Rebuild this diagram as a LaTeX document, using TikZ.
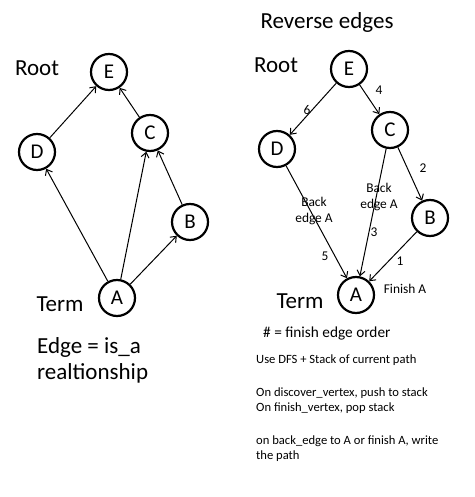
\documentclass[tikz,border=0pt]{standalone}
\usepackage{fontspec}
\setmainfont{Carlito}
\usetikzlibrary{arrows.meta}
\tikzset{
  vtx/.style={circle,draw,line width=2.2pt,minimum size=36pt,inner sep=0pt,font=\fontsize{21}{22}\selectfont},
  big/.style={font=\fontsize{23}{26}\selectfont,inner sep=0pt},
  small/.style={font=\fontsize{13.4}{16}\selectfont,inner sep=0pt,align=center},
  note/.style={font=\fontsize{12.6}{15}\selectfont,inner sep=0pt,anchor=west,align=left},
  arr/.style={line width=1pt,-{Straight Barb[length=5pt,width=8pt]}}
}
\begin{document}
\begin{tikzpicture}[x=1pt,y=-1pt]
\useasboundingbox (0,0) rectangle (474,497);
% left graph
\node[vtx] (lE) at (109,72) {E};
\node[vtx] (lD) at (37,152) {D};
\node[vtx] (lC) at (150,133) {C};
\node[vtx] (lB) at (190,222) {B};
\node[vtx] (lA) at (117,298) {A};
\node[big] (lroot) at (37,68) {Root};
\node[big] (lterm) at (60,304) {Term};
\node[big,anchor=west,align=left] (ledge) at (37,360) {Edge = is\_a\\realtionship};
\draw[arr] (lA) -- (lD);
\draw[arr] (lA) -- (lC);
\draw[arr] (lA) -- (lB);
\draw[arr] (lD) -- (lE);
\draw[arr] (lC) -- (lE);
\draw[arr] (lB) -- (lC);
% right graph
\node[big] (title) at (327,22) {Reverse edges};
\node[big] (rroot) at (276,65) {Root};
\node[vtx] (rE) at (349,69) {E};
\node[vtx] (rD) at (277,149) {D};
\node[vtx] (rC) at (390,130) {C};
\node[vtx] (rB) at (430,218) {B};
\node[vtx] (rA) at (356,295) {A};
\node[big] (rterm) at (300,301) {Term};
\draw[arr] (rE) -- (rD);
\draw[arr] (rE) -- (rC);
\draw[arr] (rC) -- (rB);
\draw[arr] (rD) -- (rA);
\draw[arr] (rC) -- (rA);
\draw[arr] (rB) -- (rA);
\node[small] (l6) at (307,110) {6};
\node[small] (l4) at (379,90) {4};
\node[small] (l2) at (423,168) {2};
\node[small] (bDA) at (314,211) {Back\\edge A};
\node[small] (bCA) at (379,197) {Back\\edge A};
\node[small] (l3) at (374,232) {3};
\node[small] (l5) at (325,256) {5};
\node[small] (l1) at (400,261) {1};
\node[small] (fin) at (405,289) {Finish A};
\node[note,font=\fontsize{15.3}{17}\selectfont] (hash) at (263,333) {\# = finish edge order};
\node[note] (n1) at (256,360) {Use DFS + Stack of current path};
\node[note] (n2) at (256,400.5) {On discover\_vertex, push to stack\\On finish\_vertex, pop stack};
\node[note] (n3) at (256,448.5) {on back\_edge to A or finish A, write\\the path};
\end{tikzpicture}
\end{document}
